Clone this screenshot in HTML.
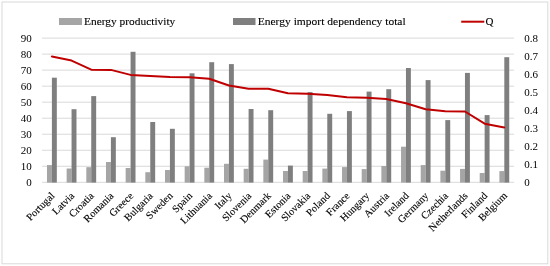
<!DOCTYPE html>
<html><head><meta charset="utf-8"><style>html,body{margin:0;padding:0;background:#fff;width:550px;height:266px;overflow:hidden}text{fill:#000;stroke:#000;stroke-width:0.12px} svg{position:absolute;left:0;top:0} svg.t{filter:grayscale(1)} text.n{stroke-width:0px}</style></head>
<body><svg width="550" height="266" viewBox="0 0 550 266"><rect x="2" y="2" width="545.8" height="261.8" fill="#fff" stroke="#d9d9d9" stroke-width="1"/><line x1="42.06" y1="182.30" x2="514.14" y2="182.30" stroke="#d9d9d9" stroke-width="1"/><line x1="42.06" y1="166.28" x2="514.14" y2="166.28" stroke="#d9d9d9" stroke-width="1"/><line x1="42.06" y1="150.26" x2="514.14" y2="150.26" stroke="#d9d9d9" stroke-width="1"/><line x1="42.06" y1="134.23" x2="514.14" y2="134.23" stroke="#d9d9d9" stroke-width="1"/><line x1="42.06" y1="118.21" x2="514.14" y2="118.21" stroke="#d9d9d9" stroke-width="1"/><line x1="42.06" y1="102.19" x2="514.14" y2="102.19" stroke="#d9d9d9" stroke-width="1"/><line x1="42.06" y1="86.17" x2="514.14" y2="86.17" stroke="#d9d9d9" stroke-width="1"/><line x1="42.06" y1="70.14" x2="514.14" y2="70.14" stroke="#d9d9d9" stroke-width="1"/><line x1="42.06" y1="54.12" x2="514.14" y2="54.12" stroke="#d9d9d9" stroke-width="1"/><line x1="42.06" y1="38.10" x2="514.14" y2="38.10" stroke="#d9d9d9" stroke-width="1"/><rect x="46.98" y="165.10" width="4.92" height="17.50" fill="#a5a5a5"/><rect x="51.90" y="77.70" width="4.92" height="104.90" fill="#7f7f7f"/><rect x="66.64" y="168.50" width="4.92" height="14.10" fill="#a5a5a5"/><rect x="71.56" y="109.20" width="4.92" height="73.40" fill="#7f7f7f"/><rect x="86.32" y="167.20" width="4.92" height="15.40" fill="#a5a5a5"/><rect x="91.24" y="96.10" width="4.92" height="86.50" fill="#7f7f7f"/><rect x="105.98" y="162.00" width="4.92" height="20.60" fill="#a5a5a5"/><rect x="110.91" y="137.20" width="4.92" height="45.40" fill="#7f7f7f"/><rect x="125.66" y="168.00" width="4.92" height="14.60" fill="#a5a5a5"/><rect x="130.58" y="51.80" width="4.92" height="130.80" fill="#7f7f7f"/><rect x="145.33" y="172.20" width="4.92" height="10.40" fill="#a5a5a5"/><rect x="150.25" y="122.00" width="4.92" height="60.60" fill="#7f7f7f"/><rect x="165.00" y="170.00" width="4.92" height="12.60" fill="#a5a5a5"/><rect x="169.92" y="128.80" width="4.92" height="53.80" fill="#7f7f7f"/><rect x="184.67" y="166.30" width="4.92" height="16.30" fill="#a5a5a5"/><rect x="189.59" y="73.30" width="4.92" height="109.30" fill="#7f7f7f"/><rect x="204.34" y="167.70" width="4.92" height="14.90" fill="#a5a5a5"/><rect x="209.26" y="62.20" width="4.92" height="120.40" fill="#7f7f7f"/><rect x="224.01" y="163.80" width="4.92" height="18.80" fill="#a5a5a5"/><rect x="228.93" y="64.10" width="4.92" height="118.50" fill="#7f7f7f"/><rect x="243.68" y="168.80" width="4.92" height="13.80" fill="#a5a5a5"/><rect x="248.60" y="109.00" width="4.92" height="73.60" fill="#7f7f7f"/><rect x="263.34" y="159.60" width="4.92" height="23.00" fill="#a5a5a5"/><rect x="268.26" y="110.20" width="4.92" height="72.40" fill="#7f7f7f"/><rect x="283.02" y="171.00" width="4.92" height="11.60" fill="#a5a5a5"/><rect x="287.94" y="165.60" width="4.92" height="17.00" fill="#7f7f7f"/><rect x="302.69" y="171.00" width="4.92" height="11.60" fill="#a5a5a5"/><rect x="307.61" y="92.10" width="4.92" height="90.50" fill="#7f7f7f"/><rect x="322.36" y="168.60" width="4.92" height="14.00" fill="#a5a5a5"/><rect x="327.28" y="113.80" width="4.92" height="68.80" fill="#7f7f7f"/><rect x="342.03" y="167.10" width="4.92" height="15.50" fill="#a5a5a5"/><rect x="346.95" y="111.10" width="4.92" height="71.50" fill="#7f7f7f"/><rect x="361.69" y="169.10" width="4.92" height="13.50" fill="#a5a5a5"/><rect x="366.62" y="91.60" width="4.92" height="91.00" fill="#7f7f7f"/><rect x="381.37" y="166.00" width="4.92" height="16.60" fill="#a5a5a5"/><rect x="386.29" y="89.20" width="4.92" height="93.40" fill="#7f7f7f"/><rect x="401.04" y="146.70" width="4.92" height="35.90" fill="#a5a5a5"/><rect x="405.96" y="68.00" width="4.92" height="114.60" fill="#7f7f7f"/><rect x="420.71" y="165.10" width="4.92" height="17.50" fill="#a5a5a5"/><rect x="425.63" y="80.10" width="4.92" height="102.50" fill="#7f7f7f"/><rect x="440.38" y="170.70" width="4.92" height="11.90" fill="#a5a5a5"/><rect x="445.30" y="120.10" width="4.92" height="62.50" fill="#7f7f7f"/><rect x="460.05" y="168.90" width="4.92" height="13.70" fill="#a5a5a5"/><rect x="464.97" y="72.90" width="4.92" height="109.70" fill="#7f7f7f"/><rect x="479.72" y="173.00" width="4.92" height="9.60" fill="#a5a5a5"/><rect x="484.64" y="115.10" width="4.92" height="67.50" fill="#7f7f7f"/><rect x="499.39" y="171.10" width="4.92" height="11.50" fill="#a5a5a5"/><rect x="504.31" y="57.20" width="4.92" height="125.40" fill="#7f7f7f"/><path d="M51.90,56.40 L71.56,60.60 L91.24,69.70 L110.91,69.90 L130.58,74.90 L150.25,75.90 L169.92,77.00 L189.59,77.30 L209.26,78.70 L228.93,85.50 L248.60,88.70 L268.26,88.70 L287.94,93.20 L307.61,93.70 L327.28,95.00 L346.95,97.30 L366.62,97.70 L386.29,99.00 L405.96,103.20 L425.63,109.30 L445.30,111.30 L464.97,111.50 L484.64,123.70 L504.31,127.40" fill="none" stroke="#c00000" stroke-width="2" stroke-linejoin="round" stroke-linecap="round"/><rect x="59" y="18" width="23" height="7" fill="#a5a5a5"/><rect x="233" y="18" width="22.5" height="7" fill="#7f7f7f"/><line x1="461.2" y1="21.7" x2="484.3" y2="21.7" stroke="#c00000" stroke-width="2"/></svg><svg class="t" width="550" height="266" viewBox="0 0 550 266" style="font-family:'Liberation Serif',serif;font-size:11px"><text x="31.8" y="185.70" text-anchor="end" class="n">0</text><text x="31.8" y="169.68" text-anchor="end" class="n">10</text><text x="31.8" y="153.66" text-anchor="end" class="n">20</text><text x="31.8" y="137.63" text-anchor="end" class="n">30</text><text x="31.8" y="121.61" text-anchor="end" class="n">40</text><text x="31.8" y="105.59" text-anchor="end" class="n">50</text><text x="31.8" y="89.57" text-anchor="end" class="n">60</text><text x="31.8" y="73.54" text-anchor="end" class="n">70</text><text x="31.8" y="57.52" text-anchor="end" class="n">80</text><text x="31.8" y="41.50" text-anchor="end" class="n">90</text><text x="524.2" y="185.70" class="n">0</text><text x="524.2" y="167.68" class="n">0.1</text><text x="524.2" y="149.65" class="n">0.2</text><text x="524.2" y="131.63" class="n">0.3</text><text x="524.2" y="113.60" class="n">0.4</text><text x="524.2" y="95.58" class="n">0.5</text><text x="524.2" y="77.55" class="n">0.6</text><text x="524.2" y="59.52" class="n">0.7</text><text x="524.2" y="41.50" class="n">0.8</text><text x="55.30" y="196.40" text-anchor="end" font-size="10.4" transform="rotate(-45 55.30 196.40)">Portugal</text><text x="74.97" y="196.40" text-anchor="end" font-size="10.4" transform="rotate(-45 74.97 196.40)">Latvia</text><text x="94.64" y="196.40" text-anchor="end" font-size="10.4" transform="rotate(-45 94.64 196.40)">Croatia</text><text x="114.31" y="196.40" text-anchor="end" font-size="10.4" transform="rotate(-45 114.31 196.40)">Romania</text><text x="133.98" y="196.40" text-anchor="end" font-size="10.4" transform="rotate(-45 133.98 196.40)">Greece</text><text x="153.65" y="196.40" text-anchor="end" font-size="10.4" transform="rotate(-45 153.65 196.40)">Bulgaria</text><text x="173.32" y="196.40" text-anchor="end" font-size="10.4" transform="rotate(-45 173.32 196.40)">Sweden</text><text x="192.99" y="196.40" text-anchor="end" font-size="10.4" transform="rotate(-45 192.99 196.40)">Spain</text><text x="212.66" y="196.40" text-anchor="end" font-size="10.4" transform="rotate(-45 212.66 196.40)">Lithuania</text><text x="232.33" y="196.40" text-anchor="end" font-size="10.4" transform="rotate(-45 232.33 196.40)">Italy</text><text x="252.00" y="196.40" text-anchor="end" font-size="10.4" transform="rotate(-45 252.00 196.40)">Slovenia</text><text x="271.66" y="196.40" text-anchor="end" font-size="10.4" transform="rotate(-45 271.66 196.40)">Denmark</text><text x="291.34" y="196.40" text-anchor="end" font-size="10.4" transform="rotate(-45 291.34 196.40)">Estonia</text><text x="311.00" y="196.40" text-anchor="end" font-size="10.4" transform="rotate(-45 311.00 196.40)">Slovakia</text><text x="330.68" y="196.40" text-anchor="end" font-size="10.4" transform="rotate(-45 330.68 196.40)">Poland</text><text x="350.35" y="196.40" text-anchor="end" font-size="10.4" transform="rotate(-45 350.35 196.40)">France</text><text x="370.01" y="196.40" text-anchor="end" font-size="10.4" transform="rotate(-45 370.01 196.40)">Hungary</text><text x="389.69" y="196.40" text-anchor="end" font-size="10.4" transform="rotate(-45 389.69 196.40)">Austria</text><text x="409.36" y="196.40" text-anchor="end" font-size="10.4" transform="rotate(-45 409.36 196.40)">Ireland</text><text x="429.03" y="196.40" text-anchor="end" font-size="10.4" transform="rotate(-45 429.03 196.40)">Germany</text><text x="448.69" y="196.40" text-anchor="end" font-size="10.4" transform="rotate(-45 448.69 196.40)">Czechia</text><text x="468.37" y="196.40" text-anchor="end" font-size="10.4" transform="rotate(-45 468.37 196.40)">Netherlands</text><text x="488.04" y="196.40" text-anchor="end" font-size="10.4" transform="rotate(-45 488.04 196.40)">Finland</text><text x="507.71" y="196.40" text-anchor="end" font-size="10.4" transform="rotate(-45 507.71 196.40)">Belgium</text><text x="84" y="24.8" font-size="11.3" textLength="91.3" lengthAdjust="spacingAndGlyphs">Energy productivity</text><text x="257.7" y="24.8" font-size="11.3" textLength="148" lengthAdjust="spacingAndGlyphs">Energy import dependency total</text><text x="485.5" y="24.8" font-size="11">Q</text></svg></body></html>
